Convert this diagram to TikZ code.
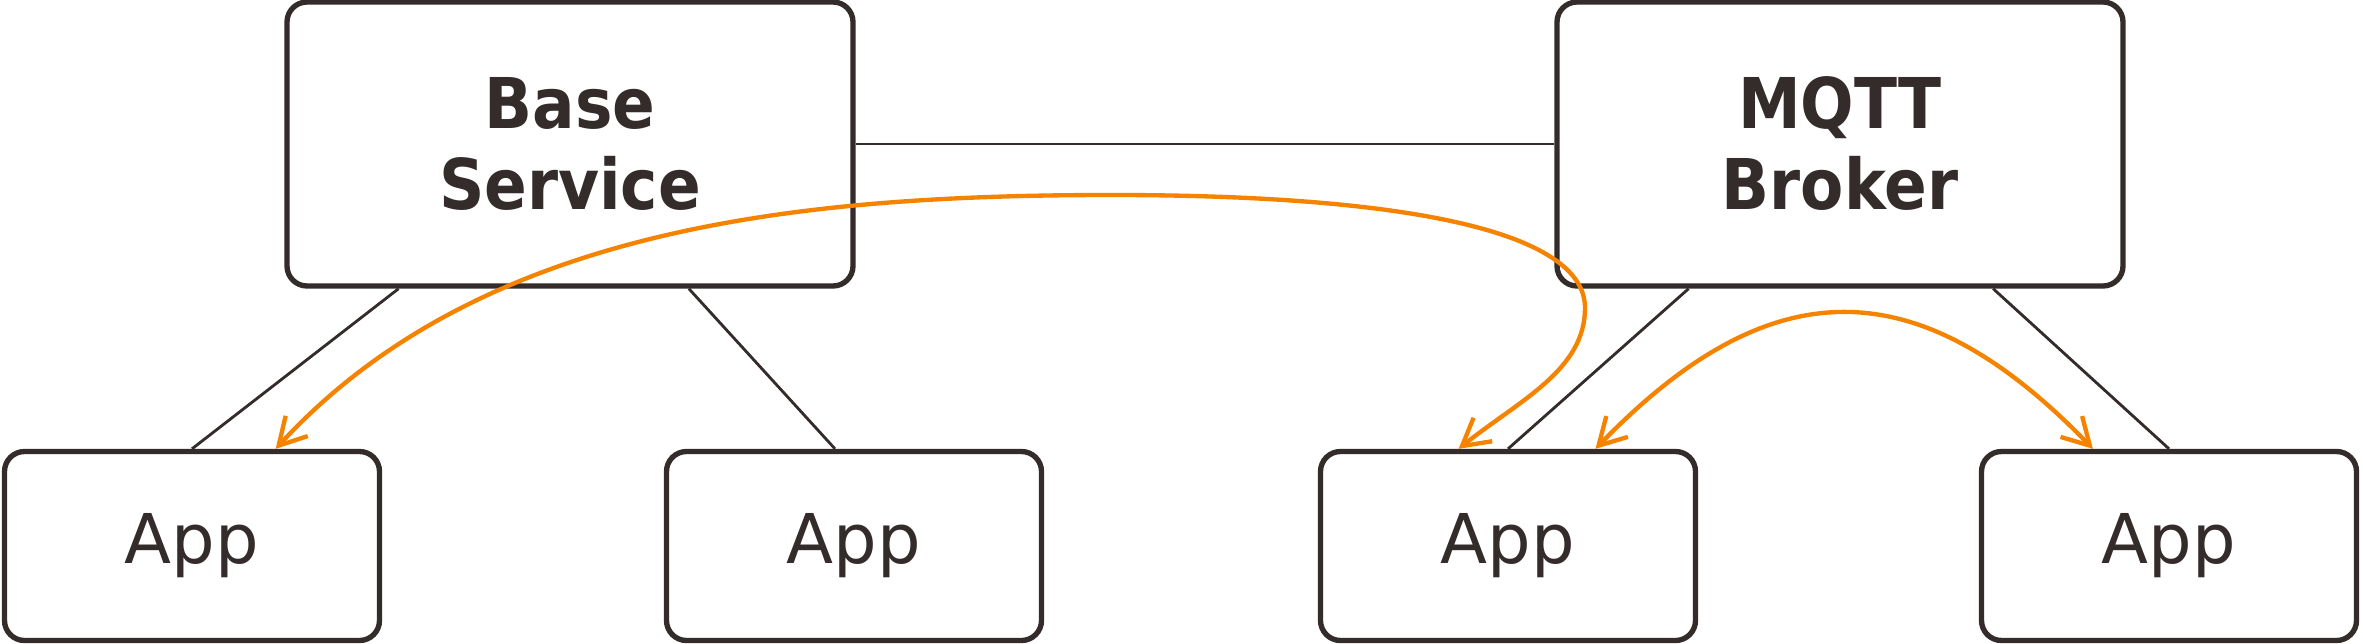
\documentclass[tikz,border=0pt]{standalone}
\usepackage{fontspec}
\setmainfont{DejaVu Sans}
\newfontfamily\labelfont{DejaVu Sans}[FakeStretch=0.9]
\usetikzlibrary{arrows.meta,calc}
\definecolor{boxline}{HTML}{332C2B}
\definecolor{msgorange}{HTML}{F58300}

\begin{document}
\begin{tikzpicture}[x=0.3pt,y=0.3pt,yscale=-1,xscale=1,
	server/.style={draw=boxline,fill=white,line width=1.6pt,rounded corners=6pt,minimum width=169.8pt,minimum height=85.2pt,align=center,text=boxline,font=\labelfont\bfseries\fontsize{21}{24.3}\selectfont},
	client/.style={draw=boxline,fill=white,line width=1.6pt,rounded corners=6pt,minimum width=112.5pt,minimum height=56.7pt,text=boxline,font=\fontsize{20.6}{24}\selectfont},
	link/.style={draw=boxline,line width=0.85pt},
	msg/.style={draw=msgorange,line width=1.3pt,{Straight Barb[length=8pt,width=9pt]}-{Straight Barb[length=8pt,width=9pt]}}]
		\useasboundingbox (0,0) rectangle (2363,644); %set diagram to 2363 x 644
		
		%Shape: Rounded Rectangle [id:base]
		\node (base) at (570,144) [server] {Base\\Service};
		%Shape: Rounded Rectangle [id:mqtt]
		\node (mqtt) at (1840,144) [server] {MQTT\\Broker};
		%Shape: Rounded Rectangle [id:app1]
		\node (app1) at (192,546) [client] {App};
		%Shape: Rounded Rectangle [id:app2]
		\node (app2) at (854,546) [client] {App};
		%Shape: Rounded Rectangle [id:app3]
		\node (app3) at (1508,546) [client] {App};
		%Shape: Rounded Rectangle [id:app4]
		\node (app4) at (2169,546) [client] {App};
		
		%Straight Lines
		\draw[link] (base) -- (mqtt);
		\draw[link] ($(base.south west)!0.2!(base.south east)$) -- (app1.north);
		\draw[link] ($(base.south west)!0.708!(base.south east)$) -- ($(app2.north west)!0.45!(app2.north east)$);
		\draw[link] ($(mqtt.south west)!0.235!(mqtt.south east)$) -- (app3.north);
		\draw[link] ($(mqtt.south west)!0.768!(mqtt.south east)$) -- (app4.north);
		
		%Curve Lines
		\coordinate (crest) at (1112,195);
		\coordinate (turn) at (1585,308);
		\draw[msg] ($(app1.north west)!0.72!(app1.north east)$) .. controls +(204,-222) and (800,195) .. (crest)
			.. controls (1400,195) and (1585,230) .. (turn)
			.. controls (1585,370) and (1520,400) .. ($(app3.north west)!0.37!(app3.north east)$);
		\draw[msg] ($(app3.north west)!0.73!(app3.north east)$) .. controls +(175,-181) and +(-175,-181) .. ($(app4.north west)!0.3!(app4.north east)$);
		
\end{tikzpicture}
\end{document}
